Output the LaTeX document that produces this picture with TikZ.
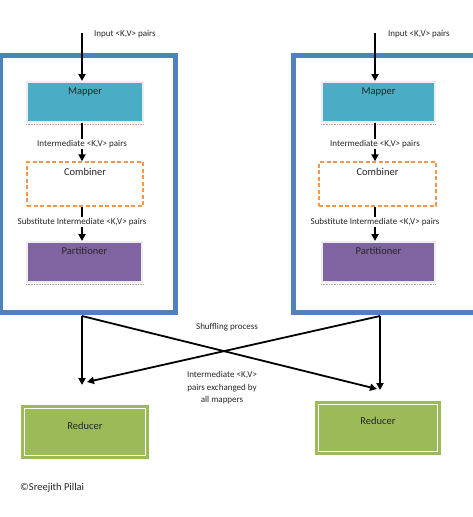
\documentclass[tikz,border=0pt]{standalone}
\usepackage{fontspec}
\setmainfont{Carlito}
\usetikzlibrary{arrows.meta,calc}
\definecolor{frameblue}{HTML}{4F81BD}
\definecolor{mapteal}{HTML}{4BACC6}
\definecolor{partpurple}{HTML}{8064A2}
\definecolor{redgreen}{HTML}{9BBB59}
\definecolor{comborange}{HTML}{F79646}
\tikzset{
  frame/.style={draw=frameblue, line width=5pt},
  boxlbl/.style={font=\fontsize{10.5}{12}\selectfont, text=black!85},
  smalllbl/.style={font=\fontsize{9}{10}\selectfont, text=black!85, inner sep=1pt},
  mapbox/.style={fill=mapteal, draw=black!7, line width=2pt, inner sep=0pt},
  partbox/.style={fill=partpurple, draw=black!7, line width=2pt, inner sep=0pt},
  combbox/.style={draw=comborange, dash pattern=on 4pt off 2.5pt, line width=1.4pt, inner sep=0pt},
  redbox/.style={fill=redgreen, inner sep=0pt},
  flow/.style={draw=black, line width=1.8pt, -{Triangle[length=7pt,width=7pt]}},
  shadowline/.style={densely dotted, black!35, line width=0.6pt},
  toplbl/.style={label={[boxlbl, anchor=north, yshift=-3pt]north:#1}}
}
\begin{document}
\begin{tikzpicture}[x=1pt,y=-1pt]
\useasboundingbox (0,0) rectangle (473,517);
\fill[white] (0,0) rectangle (473,517);

% outer frames
\draw[frame] (0.5,55.5) rectangle (175.5,312.5);
\draw[frame] (293.5,55.5) rectangle (478,312.5);

% left column
\node[mapbox, minimum width=116, minimum height=40, toplbl=Mapper] (mapL) at (85,102) {};
\node[combbox, minimum width=116, minimum height=44, toplbl=Combiner] (combL) at (85,184) {};
\node[partbox, minimum width=115, minimum height=40, toplbl=Partitioner] (partL) at (84.5,262) {};
\draw[shadowline] ([yshift=-1.5pt]mapL.south west) -- ([yshift=-1.5pt]mapL.south east);
\draw[shadowline] ([yshift=-1.5pt]partL.south west) -- ([yshift=-1.5pt]partL.south east);

% right column
\node[mapbox, minimum width=113, minimum height=40, toplbl=Mapper] (mapR) at (378.5,102) {};
\node[combbox, minimum width=117, minimum height=44, toplbl=Combiner] (combR) at (377.5,184) {};
\node[partbox, minimum width=113, minimum height=40, toplbl=Partitioner] (partR) at (378.5,262) {};
\draw[shadowline] ([yshift=-1.5pt]mapR.south west) -- ([yshift=-1.5pt]mapR.south east);
\draw[shadowline] ([yshift=-1.5pt]partR.south west) -- ([yshift=-1.5pt]partR.south east);

% input arrows
\coordinate (inL) at (82,33);
\coordinate (inR) at (375,33);
\draw[flow] (inL) -- (inL |- mapL.north);
\draw[flow] (inR) -- (inR |- mapR.north);
\node[smalllbl, anchor=west] (inLlbl) at (93,34) {Input <K,V> pairs};
\node[smalllbl, anchor=west] (inRlbl) at (387,34) {Input <K,V> pairs};

% mapper -> combiner
\draw[flow] (inL |- mapL.south) -- (inL |- combL.north)
  node[smalllbl, fill=white, pos=0.55] (imL) {Intermediate <K,V> pairs};
\draw[flow] (inR |- mapR.south) -- (inR |- combR.north)
  node[smalllbl, fill=white, pos=0.55] (imR) {Intermediate <K,V> pairs};

% combiner -> partitioner
\draw[flow] (inL |- combL.south) -- (inL |- partL.north)
  node[smalllbl, fill=white, pos=0.45] (subL) {Substitute Intermediate <K,V> pairs};
\draw[flow] (inR |- combR.south) -- (inR |- partR.north)
  node[smalllbl, fill=white, pos=0.45] (subR) {Substitute Intermediate <K,V> pairs};

% shuffle
\coordinate (outL) at (82,316);
\coordinate (outR) at (380,316);
\coordinate (tipLv) at (82,385);
\coordinate (tipLd) at (87,382);
\coordinate (tipRv) at (380,390);
\coordinate (tipRd) at (377,389);
\draw[flow] (outL) -- (tipLv);
\draw[flow] (outL) -- (tipRd);
\draw[flow] (outR) -- (tipRv);
\draw[flow] (outR) -- (tipLd);
\node[smalllbl] (shuf) at (227,327) {Shuffling process};
\node[smalllbl, align=center, font=\fontsize{9}{12.5}\selectfont] (exch) at (222,388) {Intermediate <K,V>\\pairs exchanged by\\all mappers};

% reducers
\node[redbox, minimum width=128, minimum height=54] (redL) at (85,432) {};
\draw[white, line width=0.8pt] ([shift={(4,-4)}]redL.south west) rectangle ([shift={(-4,4)}]redL.north east);
\node[boxlbl] at (85,426) {Reducer};
\node[redbox, minimum width=126, minimum height=54] (redR) at (378,428) {};
\draw[white, line width=0.8pt] ([shift={(4,-4)}]redR.south west) rectangle ([shift={(-4,4)}]redR.north east);
\node[boxlbl] at (378,421) {Reducer};

\node[font=\fontsize{10.5}{12}\selectfont, text=black!85, anchor=west, inner sep=0pt] (copy) at (20,488) {©Sreejith Pillai};
\end{tikzpicture}
\end{document}
